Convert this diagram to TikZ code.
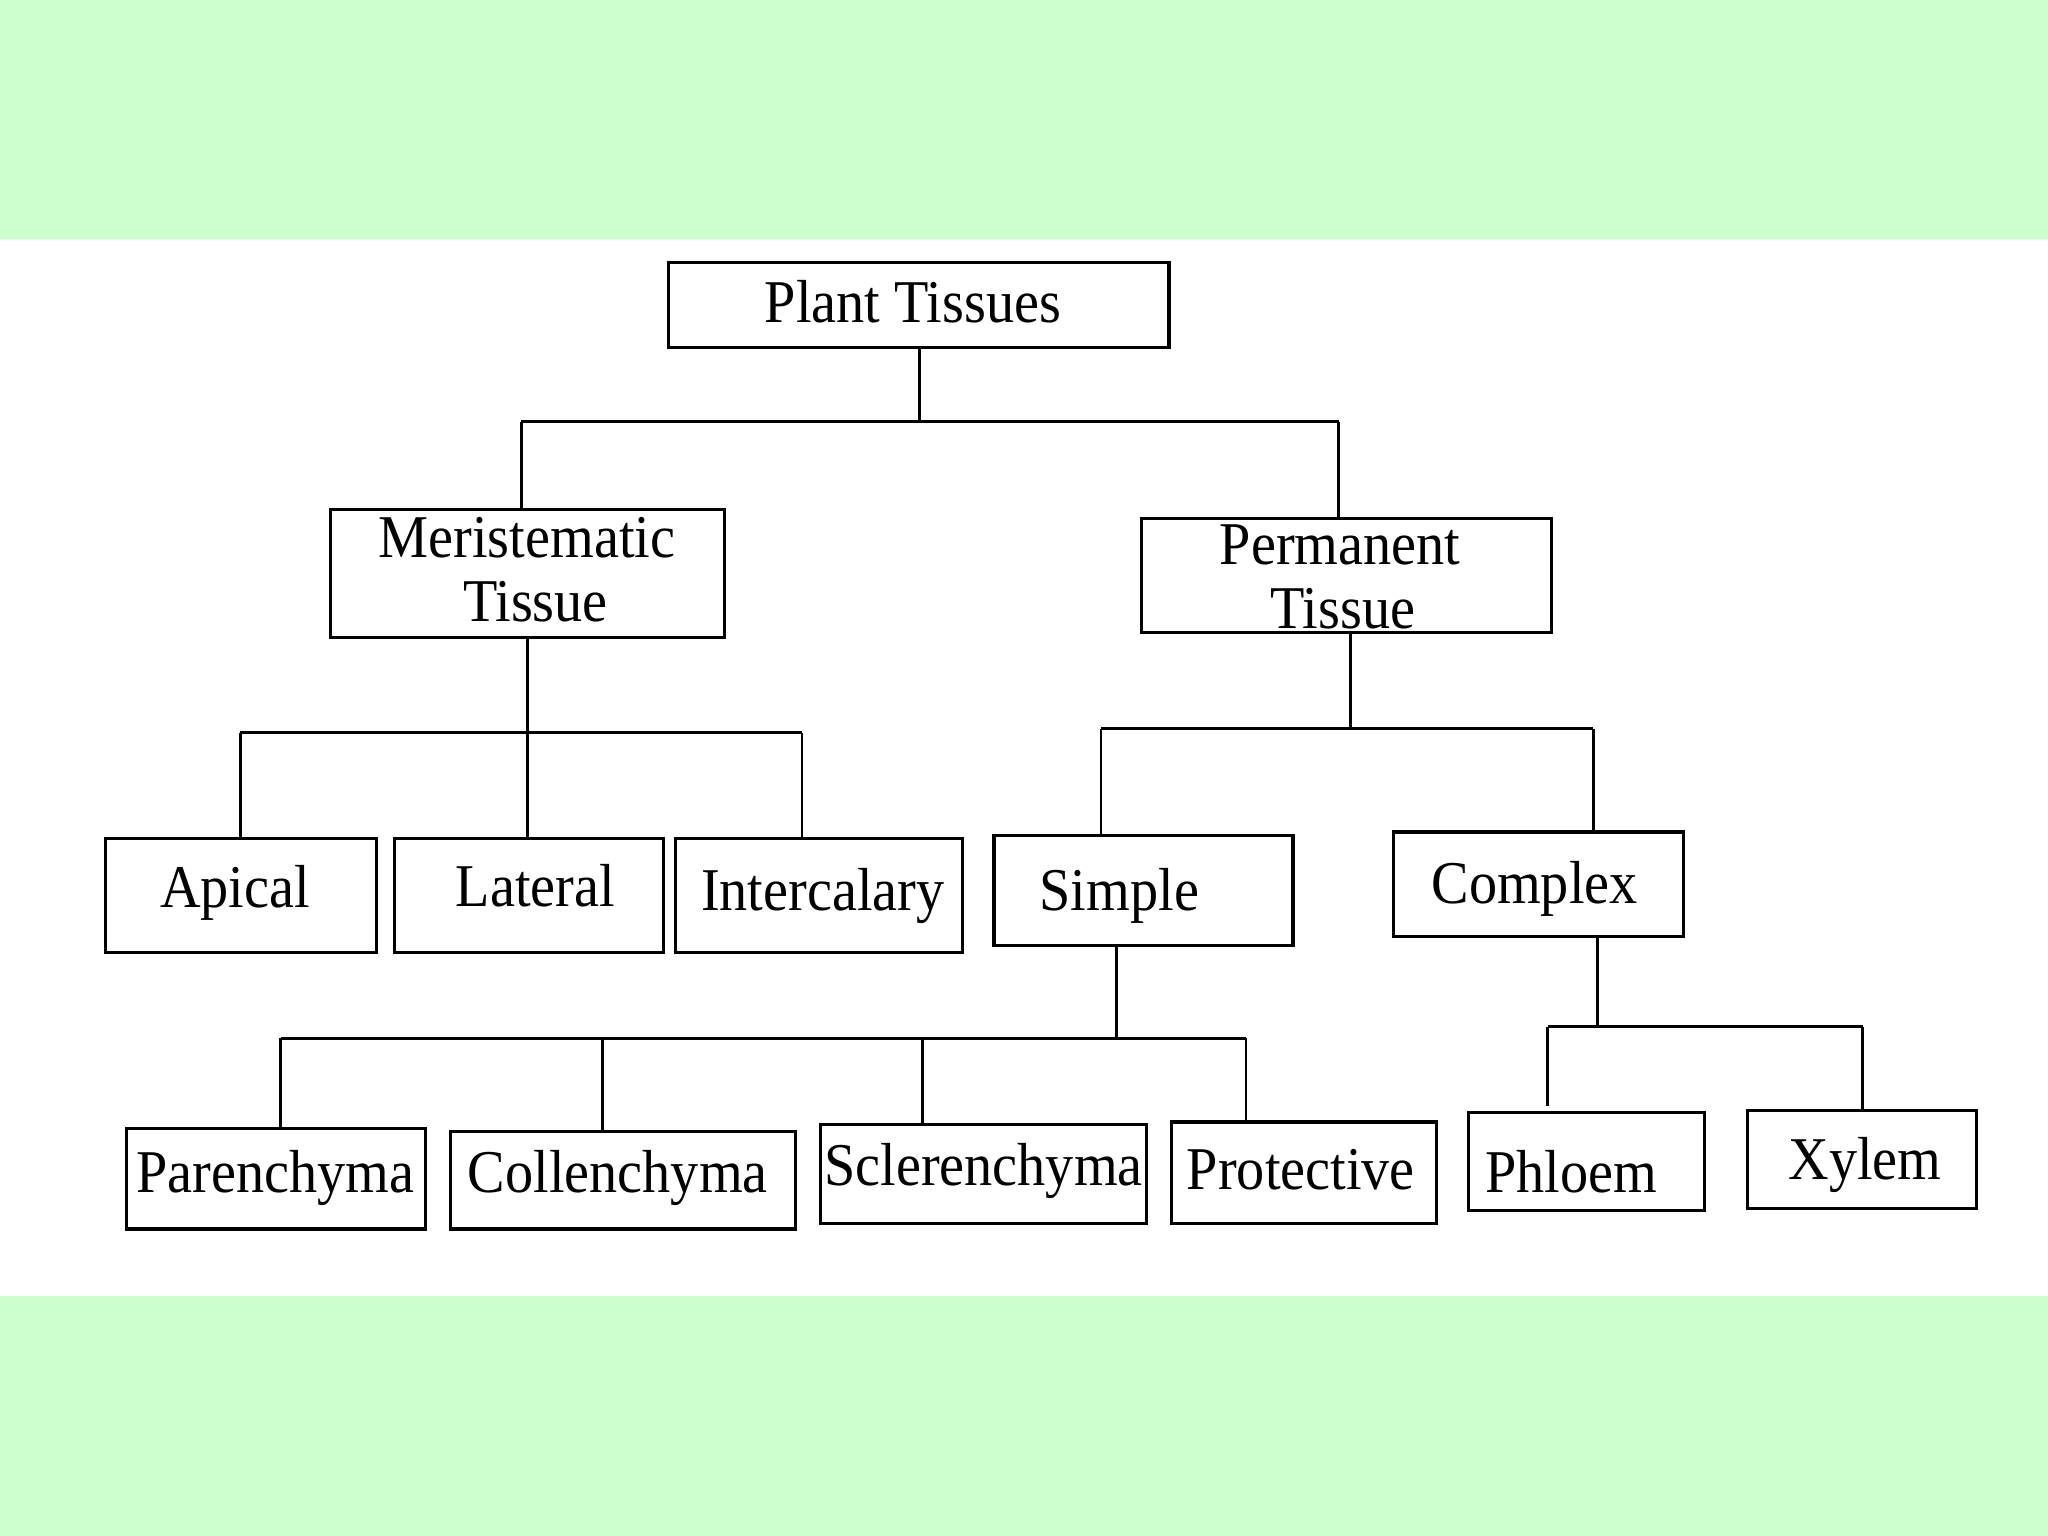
\documentclass[tikz,border=0pt]{standalone}
\usepackage{fontspec}
\setmainfont{Liberation Serif}
\usepackage{graphicx}
\usetikzlibrary{fit}
\definecolor{bandgreen}{HTML}{CCFFCC}
\newcommand\stretchtxt[1]{\scalebox{1}[1.08]{#1}}
\begin{document}
\begin{tikzpicture}[x=0.0130612cm, y=-0.0130612cm,
  box/.style={draw=black, line width=0.9pt, fill=white, inner sep=0pt, rectangle},
  lbl/.style={anchor=base, inner sep=0pt, font=\fontsize{16}{18}\selectfont},
  conn/.style={draw=black, line width=0.8pt}]
\useasboundingbox (0,0) rectangle (1568,1176);
\fill[white] (0,0) rectangle (1568,1176);
\fill[bandgreen] (0,0) rectangle (1568,183);
\fill[bandgreen] (0,992) rectangle (1568,1176);

% boxes
\node[box, fit={(512,201) (895,266)}] (pt) {};
\node[box, fit={(253,390) (555,488)}] (mer) {};
\node[box, fit={(874,397) (1188,484)}] (per) {};
\node[box, fit={(81,642) (288,729)}] (api) {};
\node[box, fit={(302,642) (508,729)}] (lat) {};
\node[box, fit={(517,642) (737,729)}] (int) {};
\node[box, fit={(761,640) (990,724)}] (sim) {};
\node[box, fit={(1067,637) (1289,717)}] (com) {};
\node[box, fit={(97,864) (326,941)}] (par) {};
\node[box, fit={(345,866) (609,941)}] (col) {};
\node[box, fit={(628,861) (878,937)}] (scl) {};
\node[box, fit={(897,859) (1100,937)}] (pro) {};
\node[box, fit={(1124,852) (1305,927)}] (phl) {};
\node[box, fit={(1338,850) (1513,925)}] (xyl) {};

% labels
\node[lbl] (ptT) at (699,247) {\stretchtxt{Plant Tissues}};
\node[lbl] (merT1) at (403.5,427) {\stretchtxt{Meristematic}};
\node[lbl] (merT2) at (410,476) {\stretchtxt{Tissue}};
\node[lbl] (perT1) at (1026,432) {\stretchtxt{Permanent}};
\node[lbl] (perT2) at (1028,481) {\stretchtxt{Tissue}};
\node[lbl] (apiT) at (180,695) {\stretchtxt{Apical}};
\node[lbl] (latT) at (410,694) {\stretchtxt{Lateral}};
\node[lbl] (intT) at (630,697) {\stretchtxt{Intercalary}};
\node[lbl] (simT) at (857,697) {\stretchtxt{Simple}};
\node[lbl] (comT) at (1175,692) {\stretchtxt{Complex}};
\node[lbl] (parT) at (211,913) {\stretchtxt{Parenchyma}};
\node[lbl] (colT) at (473,913) {\stretchtxt{Collenchyma}};
\node[lbl] (sclT) at (753,908) {\stretchtxt{Sclerenchyma}};
\node[lbl] (proT) at (996,911) {\stretchtxt{Protective}};
\node[lbl] (phlT) at (1203,913) {\stretchtxt{Phloem}};
\node[lbl] (xylT) at (1428,903) {\stretchtxt{Xylem}};

% level 1 connectors
\coordinate (b1L) at (399,323);
\coordinate (b1M) at (704,323);
\coordinate (b1R) at (1025,323);
\draw[conn] (pt.south -| b1M) -- (b1M);
\draw[conn] (b1L) -- (b1R);
\draw[conn] (b1L) -- (mer.north -| b1L);
\draw[conn] (b1R) -- (per.north -| b1R);

% meristematic children
\coordinate (b2L) at (184,561);
\coordinate (b2M) at (404,561);
\coordinate (b2R) at (614,561);
\draw[conn] (mer.south -| b2M) -- (b2M);
\draw[conn] (b2L) -- (b2R);
\draw[conn] (b2L) -- (api.north -| b2L);
\draw[conn] (b2M) -- (lat.north -| b2M);
\draw[conn] (b2R) -- (int.north -| b2R);

% permanent children
\coordinate (b3L) at (843,558);
\coordinate (b3M) at (1034,558);
\coordinate (b3R) at (1220,558);
\draw[conn] (per.south -| b3M) -- (b3M);
\draw[conn] (b3L) -- (b3R);
\draw[conn] (b3L) -- (sim.north -| b3L);
\draw[conn] (b3R) -- (com.north -| b3R);

% simple children
\coordinate (b4M) at (855,795);
\coordinate (b4A) at (215,795);
\coordinate (b4B) at (461,795);
\coordinate (b4C) at (706,795);
\coordinate (b4D) at (954,795);
\draw[conn] (sim.south -| b4M) -- (b4M);
\draw[conn] (b4A) -- (b4D);
\draw[conn] (b4A) -- (par.north -| b4A);
\draw[conn] (b4B) -- (col.north -| b4B);
\draw[conn] (b4C) -- (scl.north -| b4C);
\draw[conn] (b4D) -- (pro.north -| b4D);

% complex children
\coordinate (b5M) at (1223,786);
\coordinate (b5L) at (1185,786);
\coordinate (b5R) at (1426,786);
\coordinate (phlTop) at (1185,847);
\draw[conn] (com.south -| b5M) -- (b5M);
\draw[conn] (b5L) -- (b5R);
\draw[conn] (b5L) -- (phlTop);
\draw[conn] (b5R) -- (xyl.north -| b5R);
\end{tikzpicture}
\end{document}
